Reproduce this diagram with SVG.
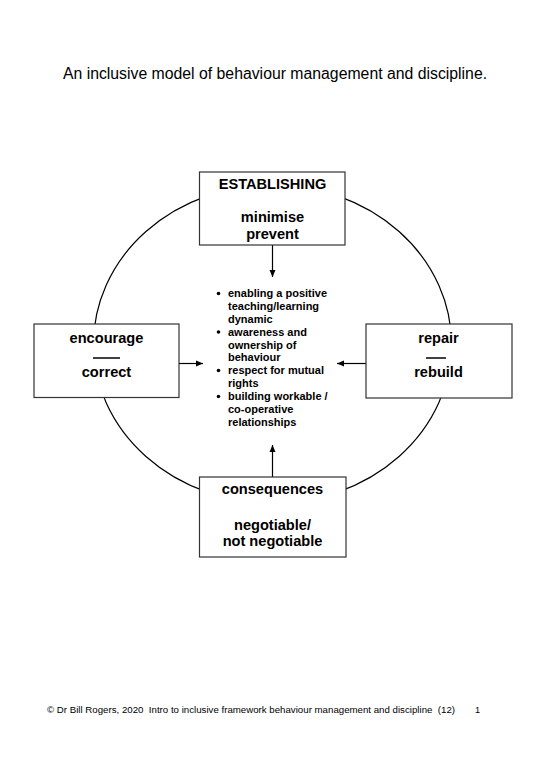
<svg xmlns="http://www.w3.org/2000/svg" width="550" height="777" viewBox="0 0 550 777">
<style>
text{font-family:"Liberation Sans",Arial,sans-serif;fill:#000}
.b{font-weight:bold;font-size:14.6px;text-anchor:middle}
.li{font-weight:bold;font-size:11px}
.box{fill:#fff;stroke:#333;stroke-width:1.2}
.ln{stroke:#000;stroke-width:1.2;fill:none}
</style>
<defs>
<marker id="ah" markerWidth="8" markerHeight="8" refX="7" refY="4" orient="auto" markerUnits="userSpaceOnUse">
<path d="M0,1 L7,4 L0,7 Z" fill="#000"/>
</marker>
</defs>
<rect width="550" height="777" fill="#fff"/>
<text x="275" y="79" font-size="15.8" text-anchor="middle">An inclusive model of behaviour management and discipline.</text>
<g id="connectors">
<ellipse class="ln" cx="272.5" cy="344" rx="179" ry="159"/>
<line class="ln" x1="272.5" y1="245" x2="272.5" y2="277" marker-end="url(#ah)"/>
<line class="ln" x1="272.5" y1="477" x2="272.5" y2="445" marker-end="url(#ah)"/>
<line class="ln" x1="179" y1="363.5" x2="203" y2="363.5" marker-end="url(#ah)"/>
<line class="ln" x1="366" y1="363.5" x2="337" y2="363.5" marker-end="url(#ah)"/>
</g>
<g id="establishing">
<rect class="box" x="199.5" y="172" width="145.5" height="73"/>
<text class="b" x="272.5" y="189">ESTABLISHING</text>
<text class="b" x="272.5" y="222">minimise</text>
<text class="b" x="272.5" y="239">prevent</text>
</g>
<g id="encourage">
<rect class="box" x="34" y="324" width="145" height="73.5"/>
<text class="b" x="106.5" y="343">encourage</text>
<line x1="93" y1="358" x2="120" y2="358" stroke="#000" stroke-width="1.5"/>
<text class="b" x="106.5" y="377">correct</text>
</g>
<g id="repair">
<rect class="box" x="366" y="324" width="146" height="74"/>
<text class="b" x="438.5" y="343">repair</text>
<line x1="426" y1="358" x2="446" y2="358" stroke="#000" stroke-width="1.5"/>
<text class="b" x="438.5" y="377">rebuild</text>
</g>
<g id="consequences">
<rect class="box" x="199.5" y="477" width="146.5" height="80"/>
<text class="b" x="272.5" y="494">consequences</text>
<text class="b" x="272.5" y="530">negotiable/</text>
<text class="b" x="272.5" y="546">not negotiable</text>
</g>
<g id="centre">
<circle cx="218.5" cy="293.5" r="1.8"/>
<circle cx="218.5" cy="332" r="1.8"/>
<circle cx="218.5" cy="370.5" r="1.8"/>
<circle cx="218.5" cy="396.5" r="1.8"/>
<text class="li" x="228" y="297">enabling a positive</text>
<text class="li" x="228" y="310">teaching/learning</text>
<text class="li" x="228" y="322.8">dynamic</text>
<text class="li" x="228" y="335.6">awareness and</text>
<text class="li" x="228" y="348.5">ownership of</text>
<text class="li" x="228" y="361.4">behaviour</text>
<text class="li" x="228" y="374.3">respect for mutual</text>
<text class="li" x="228" y="387.2">rights</text>
<text class="li" x="228" y="400">building workable /</text>
<text class="li" x="228" y="412.9">co-operative</text>
<text class="li" x="228" y="425.8">relationships</text>
</g>
<text x="47" y="713" font-size="9.2" xml:space="preserve" textLength="408" lengthAdjust="spacingAndGlyphs">© Dr Bill Rogers, 2020  Intro to inclusive framework behaviour management and discipline  (12)</text>
<text x="475" y="713" font-size="9.2">1</text>
</svg>
